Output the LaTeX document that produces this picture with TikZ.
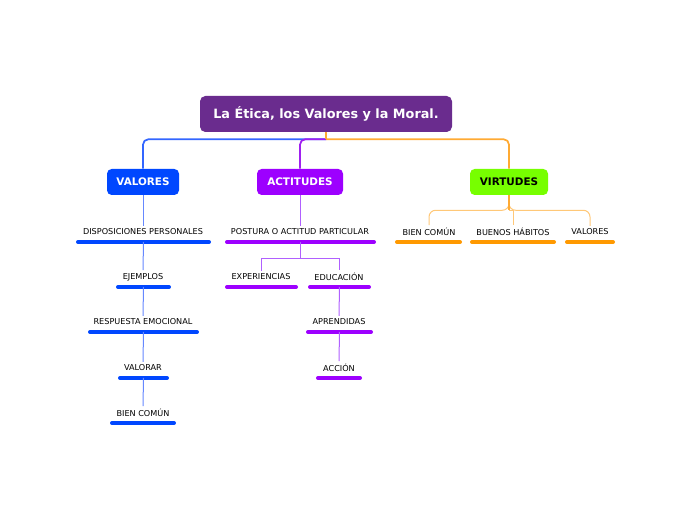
\documentclass[tikz,border=0pt]{standalone}
\usepackage{fontspec}
\setmainfont{DejaVu Sans}
\usetikzlibrary{calc}

\definecolor{rootpurple}{HTML}{6A2C8E}
\definecolor{valblue}{HTML}{0047FF}
\definecolor{actpurple}{HTML}{9D00FF}
\definecolor{virgreen}{HTML}{77FF00}
\definecolor{virorange}{HTML}{FF9900}
\definecolor{bluethin}{HTML}{6688FF}
\definecolor{purplethin}{HTML}{B060FF}
\definecolor{orangethin}{HTML}{FFC878}
\definecolor{bluelink}{HTML}{3366FF}
\definecolor{purplelink}{HTML}{A020F0}
\definecolor{orangelink}{HTML}{FFAA33}

\tikzset{
  rootbox/.style={fill=rootpurple, text=white, rounded corners=4pt, minimum width=189pt, minimum height=27pt, font=\fontsize{9.6}{11}\selectfont\bfseries},
  branchbox/.style={rounded corners=3.5pt, minimum height=19.5pt, font=\fontsize{7.8}{9}\selectfont\bfseries},
  leaf/.style={inner xsep=0pt, inner ysep=0pt, font=\fontsize{6.1}{7}\selectfont},
  bar/.style={line width=3pt, line cap=round},
  thinline/.style={line width=0.75pt},
  branchline/.style={line width=1.3pt, rounded corners=4pt}
}

\begin{document}
\begin{tikzpicture}[x=0.75pt, y=-0.75pt]
            % Canvas of the reference
            \useasboundingbox[fill=white] (0,0) rectangle (697,520);

            % Central topic
            \node[rootbox] (root) at (326,114) {La Ética, los Valores y la Moral.};
            \coordinate (hub) at ($(root.south)+(0,7)$);

            % Main branches
            \node[branchbox, fill=valblue, text=white, minimum width=54pt] (valores) at (143,182) {VALORES};
            \node[branchbox, fill=actpurple, text=white, minimum width=64.5pt] (actitudes) at (300,182) {ACTITUDES};
            \node[branchbox, fill=virgreen, text=black, minimum width=58.5pt] (virtudes) at (509,182) {VIRTUDES};

            \draw[branchline, bluelink] (hub) -| (valores.north);
            \draw[branchline, purplelink] (hub) -| (actitudes.north);
            \draw[branchline, orangelink] (hub) -| (virtudes.north);
            \draw[line width=1.3pt, orangelink] (root.south) -- (hub);

            % Leaves of VALORES
            \node[leaf] (dispo) at (143,232) {DISPOSICIONES PERSONALES};
            \node[leaf] (ejemplos) at (143,277) {EJEMPLOS};
            \node[leaf] (respuesta) at (143,322) {RESPUESTA EMOCIONAL};
            \node[leaf] (valorar) at (143,368) {VALORAR};
            \node[leaf] (biencomun) at (143,413) {BIEN COMÚN};

            \draw[bar, valblue] (78,242) coordinate (dispo-l) -- (209,242) coordinate (dispo-r);
            \draw[bar, valblue] (118,287) coordinate (ejemplos-l) -- (169,287) coordinate (ejemplos-r);
            \draw[bar, valblue] (90,332) coordinate (respuesta-l) -- (197,332) coordinate (respuesta-r);
            \draw[bar, valblue] (120,378) coordinate (valorar-l) -- (167,378) coordinate (valorar-r);
            \draw[bar, valblue] (112,423) coordinate (biencomun-l) -- (174,423) coordinate (biencomun-r);

            \draw[thinline, bluethin] (valores.south) -- ([yshift=2pt]dispo.north);
            \draw[thinline, bluethin] ($(dispo-l)!0.5!(dispo-r)$) -- ([yshift=2pt]ejemplos.north);
            \draw[thinline, bluethin] ($(ejemplos-l)!0.5!(ejemplos-r)$) -- ([yshift=2pt]respuesta.north);
            \draw[thinline, bluethin] ($(respuesta-l)!0.5!(respuesta-r)$) -- ([yshift=2pt]valorar.north);
            \draw[thinline, bluethin] ($(valorar-l)!0.5!(valorar-r)$) -- ([yshift=2pt]biencomun.north);

            % Leaves of ACTITUDES
            \node[leaf] (postura) at (300,232) {POSTURA O ACTITUD PARTICULAR};
            \node[leaf] (experiencias) at (261,277) {EXPERIENCIAS};
            \node[leaf] (educacion) at (339,277) {EDUCACIÓN};
            \node[leaf] (aprendidas) at (339,322) {APRENDIDAS};
            \node[leaf] (accion) at (339,368) {ACCIÓN};

            \draw[bar, actpurple] (227,242) coordinate (postura-l) -- (374,242) coordinate (postura-r);
            \draw[bar, actpurple] (227,287) coordinate (experiencias-l) -- (296,287) coordinate (experiencias-r);
            \draw[bar, actpurple] (310,287) coordinate (educacion-l) -- (369,287) coordinate (educacion-r);
            \draw[bar, actpurple] (308,332) coordinate (aprendidas-l) -- (371,332) coordinate (aprendidas-r);
            \draw[bar, actpurple] (318,378) coordinate (accion-l) -- (360,378) coordinate (accion-r);

            \draw[thinline, purplethin] (actitudes.south) -- ([yshift=2pt]postura.north);
            \draw[thinline, purplethin] ($(postura-l)!0.5!(postura-r)$) -- ++(0,17) -| ([yshift=2pt]experiencias.north);
            \draw[thinline, purplethin] ($(postura-l)!0.5!(postura-r)$) -- ++(0,17) -| ([yshift=2pt]educacion.north);
            \draw[thinline, purplethin] ($(educacion-l)!0.5!(educacion-r)$) -- ([yshift=2pt]aprendidas.north);
            \draw[thinline, purplethin] ($(aprendidas-l)!0.5!(aprendidas-r)$) -- ([yshift=2pt]accion.north);

            % Leaves of VIRTUDES
            \node[leaf] (bien) at (429,232) {BIEN COMÚN};
            \node[leaf] (buenos) at (513,232) {BUENOS HÁBITOS};
            \node[leaf] (valoresv) at (590,232) {VALORES};

            \draw[bar, virorange] (397,242) -- (460,242);
            \draw[bar, virorange] (472,242) -- (554,242);
            \draw[bar, virorange] (567,242) -- (613,242);

            \draw[thinline, orangethin, rounded corners=5pt] (virtudes.south) -- ++(0,15) -| ([yshift=2pt]bien.north);
            \draw[thinline, orangethin, rounded corners=5pt] (virtudes.south) -- ++(0,15) -| ([yshift=2pt]valoresv.north);
            \draw[thinline, orangethin] (virtudes.south) -- ++(0,15) -| ([yshift=2pt]buenos.north);
            \draw[line width=1.3pt, orangelink] (virtudes.south) -- ++(0,15);

        \end{tikzpicture}
\end{document}
